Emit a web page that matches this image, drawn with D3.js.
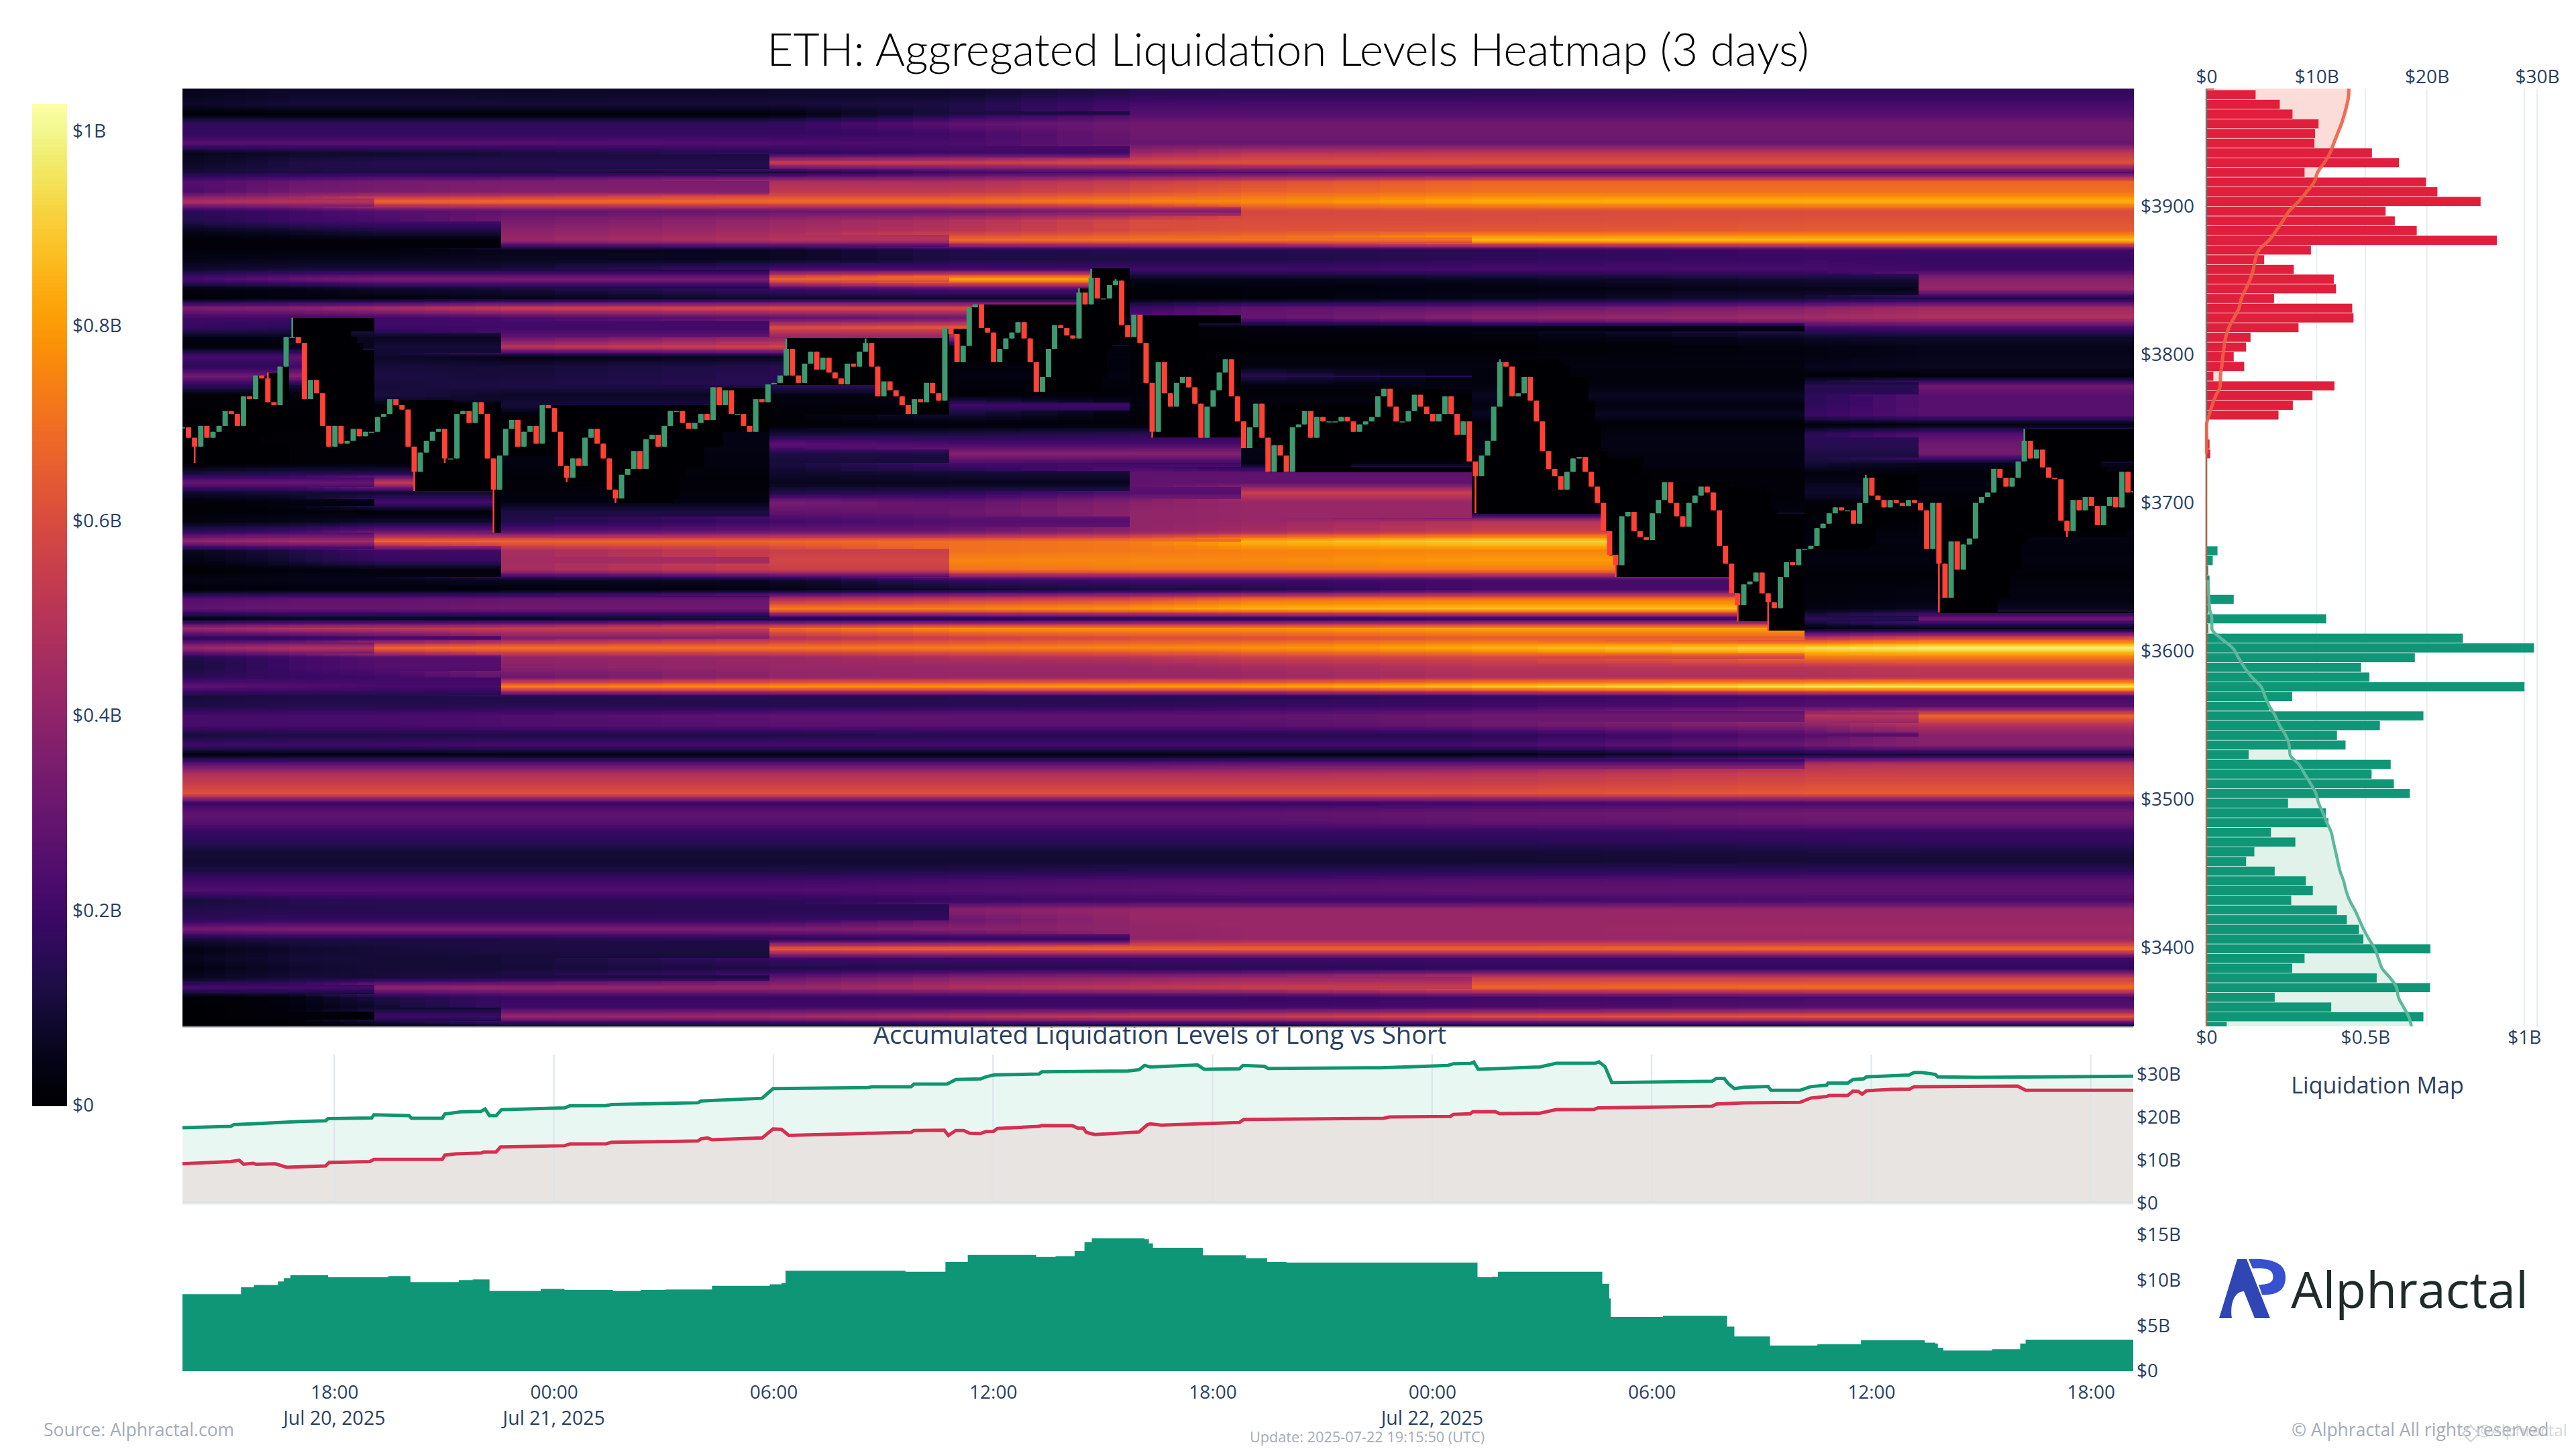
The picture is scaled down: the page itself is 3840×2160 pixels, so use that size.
<!DOCTYPE html>
<html><head><meta charset="utf-8">
<script src="https://cdn.jsdelivr.net/npm/d3@7"></script>
<style>html,body{margin:0;padding:0;background:#fff}svg{display:block}text{font-family:"Open Sans",sans-serif;fill:#2a3f5f}</style>
</head><body><svg id="c" width="3840" height="2160" viewBox="0 0 3840 2160"></svg>
<script>
// ---------- DATA ----------
const startTime = Date.UTC(2025,6,20,13,51);
const endHours = 53.31;
const candleStepMin = 10;
const closes = [3751,3744,3738,3752,3744,3748,3752,3762,3760,3752,3772,3770,3786,3784,3768,3766,3792,3812,3812,3808,3770,3783,3774,3752,3738,3752,3740,3742,3750,3745,3748,3748,3758,3760,3770,3766,3763,3738,3721,3734,3742,3748,3750,3730,3730,3760,3762,3754,3768,3760,3730,3709,3732,3750,3756,3738,3748,3752,3740,3766,3764,3748,3725,3717,3730,3725,3744,3750,3740,3730,3709,3703,3719,3723,3735,3723,3743,3746,3738,3752,3762,3762,3754,3750,3754,3760,3756,3778,3766,3776,3760,3760,3752,3748,3770,3768,3780,3781,3786,3804,3786,3781,3794,3802,3790,3798,3788,3784,3780,3794,3792,3802,3808,3792,3772,3782,3776,3772,3766,3760,3770,
3768,3781,3774,3769,3818,3814,3795,3806,3832,3834,3818,3815,3795,3804,3811,3815,3822,3811,3795,3775,3785,3804,3820,3818,3813,3811,3842,3834,3852,3838,3838,3847,3850,3820,3812,3827,3808,3781,3748,3795,3774,3765,3781,3785,3778,3767,3744,3765,3776,3788,3797,3772,3755,3737,3751,3767,3744,3721,3739,3732,3721,3751,3753,3762,3744,3758,3755,3755,3755,3758,3755,3748,3753,3755,3758,3772,3777,3765,3755,3755,3762,3773,3765,3760,3755,3760,3772,3760,3746,3755,3728,3718,3732,3742,3765,3795,3792,3772,3774,3785,3769,3755,3735,3723,3718,3709,3721,3730,3731,3721,3711,3700,3681,3665,3658,3691,3694,3681,3677,3675,3693,3702,3714,3700,3691,3684,3700,3705,3711,3707,3695,
3671,3659,3639,3631,3645,3647,3653,3639,3633,3629,3650,3660,3658,3669,3669,3671,3683,3686,3693,3697,3695,3695,3686,3700,3717,3705,3702,3697,3702,3700,3698,3702,3700,3695,3669,3700,3659,3636,3674,3655,3672,3676,3700,3704,3707,3723,3717,3711,3717,3728,3742,3730,3736,3724,3717,3716,3688,3681,3702,3695,3704,3698,3685,3698,3704,3697,3721,3707,3708];
const wickIndex = [2,14,18,38,43,51,63,71,99,112,147,149,153,159,212,216,235,255,260,276,288,302,309];
const wickPrice = [3727,3788,3825,3708,3727,3680,3714,3700,3811,3811,3845,3858,3851,3744,3693,3797,3650,3620,3614,3719,3626,3750,3677];

const levelTop = 3982.05, levelStep = 6.55;     // price of first row, row spacing
// hours after start at which each heat column begins
const heatBreaks = [0,2.91,5.24,8.7,16.04,20.95,25.88,28.93,35.24,44.33,47.44];
// $B per level (top to bottom) across the heat columns
const heatRows = [
[.04,.06,.07,.06,.07,.07,.12,.13,.14,.15,.15],
[.05,.08,.08,.07,.08,.08,.15,.16,.16,.17,.17],
[.07,.1,.1,.1,.1,.12,.22,.22,.22,.22,.22],
[.01,.01,.01,.01,.01,.12,.25,.25,.25,.25,.25],
[.17,.17,.17,.17,.17,.28,.32,.32,.32,.32,.32],
[.17,.17,.17,.17,.17,.2,.32,.32,.32,.32,.32],
[.26,.26,.26,.26,.24,.22,.3,.3,.3,.3,.3],
[.05,.08,.08,.1,.15,.2,.42,.5,.52,.52,.52],
[.06,.12,.14,.14,.55,.55,.6,.62,.62,.62,.62],
[.1,.12,.13,.12,.1,.2,.22,.24,.24,.24,.24],
[.24,.3,.33,.35,.48,.47,.55,.6,.68,.68,.68],
[.22,.33,.34,.36,.52,.52,.6,.66,.7,.7,.7],
[.48,.5,.68,.7,.7,.7,.75,.76,.84,.85,.85],
[.15,.2,.25,.28,.3,.3,.35,.58,.6,.6,.6],
[.13,.2,.22,.33,.42,.48,.6,.6,.6,.62,.62],
[.05,.08,.12,.38,.45,.5,.6,.62,.63,.65,.65],
[.01,.02,.02,.42,.5,.7,.72,.72,.88,.88,.88],
[.02,.02,.02,.05,.06,.13,.14,.14,.14,.2,.2],
[.04,.05,.05,.06,.06,.12,.12,.12,.16,.2,.18],
[.08,.1,.1,.1,.22,.22,.2,.2,.22,.22,.2],
[.22,.3,.35,.35,.7,.85,.05,.05,.06,.1,.38],
[.03,.04,.08,.1,.2,.25,.01,.02,.03,.05,.42],
[.01,.03,.02,.04,.08,.08,.02,.02,.05,.1,.12],
[.35,.38,.45,.55,.6,.6,.18,.28,.3,.38,.45],
[.2,.2,.2,.22,.26,.3,.25,.28,.4,.45,.48],
[.18,.15,.2,.2,.6,.65,.01,.02,.03,.2,.22],
[.04,.06,.06,.28,.4,.42,.01,.02,.02,.07,.08],
[.02,.05,.1,.5,.58,.02,0,0,0,.03,.05],
[.22,.28,.08,.03,.05,.03,.02,.02,.02,.03,.05],
[.15,.2,.1,.1,.14,.02,.02,.03,.03,.05,.06],
[.32,.38,.12,.1,.15,.03,.02,.15,.02,.02,.02],
[.15,.1,.1,.12,.15,.02,.02,.02,.03,.15,.32],
[.01,.02,.12,.07,.03,.02,.02,.02,.06,.15,.26],
[.01,.01,.02,.1,.02,.2,.03,.03,.03,.15,.26],
[0,0,.01,.02,.01,.1,.02,.02,.06,.18,.26],
[0,0,.01,.01,.01,.01,.01,.01,.01,.02,.02],
[.01,.01,.02,.04,.1,.12,.15,.05,.03,.15,.25],
[.01,.01,.02,.04,.28,.22,.22,.05,.04,.15,.32],
[0,.01,.01,.03,.12,.38,.38,.04,.03,.12,.33],
[0,.01,.02,.03,.1,.22,.2,.03,.03,.1,.05],
[.1,.13,.13,.02,.08,.1,.28,.28,.01,.02,.02],
[.3,.3,.55,.02,.05,.05,.28,.28,.02,.05,.03],
[.08,.1,.08,.02,.12,.15,.25,.55,.02,.08,.02],
[.01,.03,.22,.04,.35,.28,.38,.42,.02,.02,.02],
[.01,.02,.01,.12,.28,.3,.4,.42,.03,.01,.01],
[.03,.05,.08,.12,.2,.25,.4,.42,.5,.02,.02],
[.15,.2,.3,.25,.3,.3,.4,.45,.55,.02,.03],
[.4,.45,.68,.68,.68,.7,.72,.85,.92,.03,.03],
[.05,.12,.2,.45,.55,.7,.72,.74,.75,.02,.02],
[.03,.1,.18,.45,.58,.75,.76,.76,.8,.03,.03],
[0,.02,.02,.45,.55,.7,.72,.72,.72,.02,.02],
[.04,.05,.05,.06,.07,.18,.2,.2,.22,.02,.02],
[.01,.02,.02,.02,.03,.08,.12,.12,.22,.02,.03],
[.25,.28,.28,.3,.48,.55,.6,.7,.72,.02,.03],
[.28,.3,.3,.32,.75,.75,.8,.85,.88,.03,.06],
[.02,.05,.05,.05,.08,.1,.12,.12,.15,.15,.32],
[.42,.5,.52,.55,.68,.78,.78,.78,.82,.02,.03],
[.15,.15,.2,.35,.48,.55,.6,.6,.65,.5,.6],
[.42,.5,.7,.72,.72,.74,.76,.78,.85,.95,.99],
[.12,.2,.25,.4,.42,.48,.5,.55,.58,.72,.72],
[.1,.2,.25,.38,.42,.42,.42,.45,.5,.5,.52],
[.15,.18,.2,.3,.4,.42,.42,.42,.48,.48,.5],
[.28,.25,.22,.75,.8,.8,.82,.82,.9,.98,.97],
[.1,.12,.12,.13,.14,.14,.14,.14,.17,.22,.22],
[.12,.14,.14,.14,.14,.15,.16,.18,.2,.25,.25],
[.22,.22,.22,.24,.28,.28,.28,.28,.32,.5,.68],
[.22,.22,.22,.24,.26,.26,.26,.26,.3,.38,.48],
[.1,.12,.12,.12,.12,.14,.14,.14,.14,.25,.38],
[.2,.2,.2,.22,.22,.22,.22,.22,.22,.32,.38],
[.02,.03,.03,.03,.03,.03,.03,.03,.03,.1,.1],
[.28,.28,.28,.28,.28,.28,.28,.3,.3,.48,.5],
[.48,.48,.48,.48,.48,.48,.48,.48,.5,.56,.56],
[.55,.55,.55,.55,.55,.55,.55,.55,.55,.6,.6],
[.62,.62,.62,.62,.62,.62,.62,.62,.62,.65,.65],
[.18,.18,.18,.18,.18,.18,.18,.18,.2,.22,.22],
[.28,.28,.28,.28,.28,.28,.28,.28,.3,.33,.33],
[.26,.26,.26,.26,.26,.26,.26,.26,.28,.3,.3],
[.17,.17,.17,.17,.17,.17,.17,.17,.17,.18,.18],
[.15,.15,.15,.15,.15,.15,.15,.15,.15,.16,.17],
[.1,.1,.1,.1,.1,.1,.1,.1,.1,.11,.11],
[.09,.09,.09,.09,.09,.09,.09,.09,.09,.1,.1],
[.12,.12,.12,.12,.12,.13,.14,.14,.15,.16,.16],
[.2,.2,.2,.2,.2,.22,.24,.24,.25,.26,.26],
[.24,.24,.24,.24,.24,.25,.26,.27,.28,.28,.28],
[.1,.14,.15,.15,.15,.18,.2,.2,.2,.22,.22],
[.13,.14,.14,.14,.15,.38,.42,.42,.42,.42,.42],
[.16,.17,.17,.17,.17,.3,.42,.42,.42,.42,.42],
[.33,.35,.35,.35,.35,.38,.4,.42,.42,.44,.44],
[.1,.12,.12,.12,.14,.16,.4,.42,.42,.42,.42],
[.03,.08,.1,.12,.65,.68,.68,.68,.68,.7,.7],
[.05,.1,.1,.1,.2,.2,.2,.2,.2,.2,.2],
[.03,.08,.1,.1,.12,.14,.15,.15,.16,.16,.16],
[.05,.1,.1,.12,.28,.38,.4,.42,.55,.55,.55],
[.22,.22,.4,.42,.42,.48,.52,.55,.68,.7,.7],
[.01,.03,.12,.18,.18,.18,.18,.18,.2,.22,.22],
[0,.02,.08,.2,.2,.2,.2,.2,.22,.25,.25],
[0,.02,.2,.42,.45,.5,.55,.55,.62,.65,.65],
[0,0,.01,.03,.03,.03,.03,.03,.03,.03,.03]
];

// side panel, $M per level. shortBars begins at row 0, longBars at row longFirstRow
const shortBars = [24,155,231,271,353,342,340,521,606,309,691,727,863,564,593,662,914,329,182,275,401,408,213,459,463,290,139,125,86,119,22,403,334,272,227,0,0,10,12];
const longFirstRow = 48;
const longBars = [35,20,6,10,6,86,6,377,6,807,1031,656,487,513,1001,270,198,683,546,411,438,133,580,520,590,640,257,376,384,203,280,151,125,215,313,335,267,411,442,480,494,705,309,270,536,704,215,393,683,64];
const longCumFirstRow = 51;
const longCum = [.16,.2,.24,.3,.5,.5,1.31,2.38,2.91,3.45,4.12,4.97,5.32,5.72,6.25,6.65,7.19,7.51,7.59,8.39,8.93,9.46,9.94,10.18,10.58,10.93,11.33,11.52,11.73,11.92,12.13,12.45,12.67,12.99,13.47,13.87,14.27,14.75,15.29,15.61,15.93,16.68,17.26,17.42,17.88,18.36,18.6];

// accumulated long (green) and short (red) levels, hours after start / $B
const accLongHours = [0,1.32,1.4,2.39,3.22,3.91,3.98,5.17,5.23,6.19,6.26,7.1,7.17,7.63,8.16,8.27,8.39,8.57,8.72,10.44,10.59,11.58,11.73,14.09,14.17,15.84,16.14,18.73,18.85,19.91,19.99,20.9,21.13,21.81,21.96,22.19,23.41,23.48,25.84,26.14,26.29,26.45,27.74,27.92,28.88,28.98,29.56,29.67,32.75,34.58,34.73,35.19,35.29,35.41,37.09,37.54,38.6,38.71,38.88,39.06,41.8,41.92,42.13,42.25,42.41,42.68,43.33,43.41,44.2,44.49,44.93,44.97,45.51,45.65,45.94,46.02,47.18,47.32,47.54,47.9,47.97,49.06,53.31];
const accLong = [17.5,17.8,18.2,18.6,18.95,19.1,19.6,19.75,20.5,20.3,19.7,19.7,20.7,21.2,21.3,21.85,20.3,20.3,21.7,22.1,22.6,22.65,22.9,23.3,23.7,24.35,26.6,26.85,27.05,27.05,27.65,27.65,28.7,28.85,29.35,29.8,30,30.5,30.7,31,32,31.65,32.1,31.1,31.2,32,31.8,31.3,31.45,32,32.4,32.45,32.8,31.1,31.65,32.5,32.5,32.85,31.65,28,28.3,29,29,27.7,26.6,26.9,27.1,26.2,26.2,27.05,27.4,27.9,27.9,28.7,28.85,29.35,29.75,30.35,30.35,29.9,29.35,29.2,29.5];
const accShortHours = [0,1.32,1.55,1.67,1.93,2.01,2.54,2.84,3.91,4.01,5.12,5.23,7.1,7.17,7.48,8.16,8.24,8.57,8.69,10.44,10.59,11.58,11.73,14.09,14.17,14.35,14.47,15.84,16.14,16.37,16.57,18.73,18.85,19.91,19.99,20.82,20.93,21.13,21.35,21.51,21.81,21.96,22.16,22.27,23.41,23.48,24.32,24.47,24.62,24.7,24.93,26.14,26.37,26.45,26.75,28.88,29,32.83,32.98,34.65,34.73,35.19,35.26,35.87,35.99,37.09,37.54,38.57,38.68,41.8,41.92,42.68,44.2,44.49,44.93,45,45.51,45.65,45.8,45.9,46.02,46.67,47.2,47.32,50.15,50.37,53.31];
const accShort = [9.1,9.6,9.9,9,9.2,9,9.1,8.3,8.6,9.4,9.6,10.1,10.1,11.1,11.4,11.6,11.85,11.85,13,13.3,13.7,13.75,14.1,14.4,14.9,15.1,14.7,15.1,17.2,17.1,15.7,16.2,16.2,16.4,16.85,16.9,15.7,16.85,16.85,16.2,16.15,16.6,16.65,17.3,17.8,18,17.95,17.4,17.4,16.4,15.9,16.5,18.2,18.4,18.1,18.7,19.4,19.7,20,20.1,20.6,20.75,21.2,21.25,20.8,20.85,21.7,21.75,22.1,22.5,23,23.3,23.4,24.4,24.75,25,25,26,25.95,25.3,26.1,26.4,26.5,27.05,27.2,26.2,26.2];

// long minus short steps, hours after start / $B
const diffHours = [0,1.6,1.95,2.61,2.77,2.95,3.98,5.62,6.23,7.55,7.93,8.39,9.79,10.44,11.76,12.52,13.21,14.47,16.05,16.37,16.48,19.76,20.85,21.46,23.33,23.86,24.38,24.65,24.85,26.29,26.41,26.52,27.89,29.06,29.64,30.17,35.39,35.79,35.95,38.8,38.99,39.03,40.46,42.21,42.41,43.38,44.68,45.87,47.61,47.9,47.97,48.12,49.45,50.22,50.37,53.31];
const diffVals = [8.48,9.25,9.5,9.88,10.25,10.56,10.34,10.47,9.8,10.03,10.1,8.85,9.07,8.94,8.85,8.94,9,9.41,9.57,9.72,11.06,10.96,12.05,12.8,12.58,12.67,13.23,14.22,14.63,14.53,14.07,13.6,12.76,12.45,12.05,11.96,10.34,10.4,10.96,9.63,8.01,5.99,6.09,4.91,3.82,2.83,2.98,3.42,3.14,3.04,2.58,2.27,2.42,3.04,3.48,3.48];

const priceTicks = [3400,3500,3600,3700,3800,3900];
const colorTicks = [0,.2,.4,.6,.8,1];
const accTicks = [0,10,20,30];
const diffTicks = [0,5,10,15];
const timeTicks = ["2025-07-20T18:00Z","2025-07-21T00:00Z","2025-07-21T06:00Z","2025-07-21T12:00Z","2025-07-21T18:00Z","2025-07-22T00:00Z","2025-07-22T06:00Z","2025-07-22T12:00Z","2025-07-22T18:00Z"];
const dateLabels = [["2025-07-20T18:00Z","Jul 20, 2025"],["2025-07-21T00:00Z","Jul 21, 2025"],["2025-07-22T00:00Z","Jul 22, 2025"]];

// ---------- SCALES ----------
const HR=3600000, at=h=>new Date(startTime+h*HR);
const x=d3.scaleUtc().domain([at(0),at(endHours)]).range([272,3180]);
const yP=d3.scaleLinear().domain([3979.2,3346.3]).range([133,1531]);
const color=d3.scaleSequential(d3.interpolateInferno).domain([0,1.027]);
const xBar=d3.scaleLinear().domain([0,1000]).range([3289,3762.7]);
const xCum=d3.scaleLinear().domain([0,30]).range([3289,3782]);
const yAcc=d3.scaleLinear().domain([0,30]).range([1793,1601]);
const yDiff=d3.scaleLinear().domain([0,15]).range([2044,1841]);
const yColor=d3.scaleLinear().domain([0,1.027]).range([1648,156]);

const svg=d3.select("#c");
const defs=svg.append("defs");
defs.append("clipPath").attr("id","plot").append("rect").attr("x",272).attr("y",132).attr("width",2908).attr("height",1398);
defs.append("clipPath").attr("id","side").append("rect").attr("x",3280).attr("y",132).attr("width",520).attr("height",1398);

const txt=(g,X,Y,s,size,anchor,fill)=>{const t=g.append("text").attr("x",X).attr("y",Y).attr("font-size",size).attr("text-anchor",anchor||"start").text(s);if(fill)t.style("fill",fill);return t;};
const fmtB=v=>v===0?"$0":"$"+v+"B";

// ---------- candles ----------
const candles=closes.map((c,i)=>{const o=i?closes[i-1]:c;let hi=Math.max(o,c),lo=Math.min(o,c);const w=wickIndex.indexOf(i);if(w>=0){hi=Math.max(hi,wickPrice[w]);lo=Math.min(lo,wickPrice[w]);}return{t:at(i*candleStepMin/60),h:i*candleStepMin/60,o,c,hi,lo};});

// accumulated sub-title lies behind the heatmap
txt(svg,1729,1556,"Accumulated Liquidation Levels of Long vs Short",38,"middle");

// ---------- heatmap ----------
// small differences between neighbouring columns drift gradually, large ones switch at the break.
// A level the price has passed turns black; faint levels come back after regrowHours.
const strips=[];const stripH=2,subSteps=5,driftLimit=.12,regrowHours=1.6,regrowMax=.12;
d3.range(132,1530,stripH).forEach(Y=>{
  const p=yP.invert(Y+stripH/2);
  let f=(levelTop-p)/levelStep; f=Math.max(0,Math.min(heatRows.length-1,f));
  const r0=Math.floor(f),r1=Math.min(heatRows.length-1,r0+1),w=f-r0;
  const valAt=c=>heatRows[r0][c]*(1-w)+heatRows[r1][c]*w;
  heatBreaks.forEach((h0,c)=>{
    const h1=c+1<heatBreaks.length?heatBreaks[c+1]:endHours;
    const v=valAt(c);
    const inCol=candles.filter(d=>d.h>=h0&&d.h<h1&&d.lo<=p&&d.hi>=p);
    const next=c+1<heatBreaks.length?valAt(c+1):v;
    if(!inCol.length&&Math.abs(next-v)<driftLimit&&Math.abs(next-v)>.004){
      d3.range(subSteps).forEach(s=>{
        const a=h0+(h1-h0)*s/subSteps,b=h0+(h1-h0)*(s+1)/subSteps;
        strips.push({h0:a,h1:b,Y,v:v+(next-v)*(s+.5)/subSteps*.9});
      });
    } else if(!inCol.length){
      strips.push({h0,h1,Y,v});
    } else {
      const first=inCol[0].h,last=inCol[inCol.length-1].h;
      strips.push({h0,h1:first,Y,v});
      if(v<regrowMax&&last+regrowHours<h1){
        strips.push({h0:first,h1:last+regrowHours,Y,v:0});
        strips.push({h0:last+regrowHours,h1,Y,v});
      } else strips.push({h0:first,h1,Y,v:0});
    }
  });
});
svg.append("g").attr("shape-rendering","crispEdges").selectAll("rect").data(strips.filter(d=>d.h1>d.h0)).join("rect")
 .attr("x",d=>x(at(d.h0))).attr("width",d=>x(at(d.h1))-x(at(d.h0))+.5)
 .attr("y",d=>d.Y).attr("height",stripH+.2).attr("fill",d=>color(d.v));
svg.append("line").attr("x1",272).attr("x2",3180).attr("y1",1530.5).attr("y2",1530.5).attr("stroke","#8a8d93").attr("stroke-width",2);

// candles
const cg=svg.append("g").attr("clip-path","url(#plot)");
const col=d=>d.c>=d.o?"#3d9970":"#ff4136";
cg.selectAll("line").data(candles).join("line").attr("x1",d=>x(d.t)).attr("x2",d=>x(d.t)).attr("y1",d=>yP(d.hi)).attr("y2",d=>yP(d.lo)).attr("stroke",col).attr("stroke-width",2.6);
cg.selectAll("rect").data(candles).join("rect").attr("x",d=>x(d.t)-4).attr("width",8).attr("y",d=>yP(Math.max(d.o,d.c))).attr("height",d=>Math.max(1.5,Math.abs(yP(d.o)-yP(d.c)))).attr("fill",col);

// price axis
const pa=svg.append("g").attr("transform","translate(3180,0)").call(d3.axisRight(yP).tickValues(priceTicks).tickFormat(d=>"$"+d).tickSize(0).tickPadding(11));
pa.select(".domain").remove(); pa.selectAll("text").attr("font-size",28).attr("font-family","Open Sans").style("fill","#2a3f5f");

// ---------- colour bar ----------
const cbSteps=d3.range(0,1.027,.002);
svg.append("g").attr("shape-rendering","crispEdges").selectAll("rect").data(cbSteps).join("rect").attr("x",48).attr("width",52).attr("y",d=>yColor(d+.002)).attr("height",d=>yColor(d)-yColor(d+.002)+.6).attr("fill",d=>color(d));
const ca=svg.append("g").attr("transform","translate(100,0)").call(d3.axisRight(yColor).tickValues(colorTicks).tickFormat(d=>d===0?"$0":"$"+d+"B").tickSize(0).tickPadding(8));
ca.select(".domain").remove(); ca.selectAll("text").attr("font-size",28).attr("font-family","Open Sans").style("fill","#2a3f5f");

// ---------- side panel ----------
const nRows=heatRows.length, rowPrice=r=>levelTop-r*levelStep;
const grids=[xBar(500),xCum(10),xCum(20),xBar(1000),xCum(30)];
svg.append("g").selectAll("line").data(grids).join("line").attr("x1",d=>d).attr("x2",d=>d).attr("y1",132).attr("y2",1530).attr("stroke","#e6eef0").attr("stroke-width",2);
const shortFull=d3.range(nRows).map(r=>r<shortBars.length?shortBars[r]:0);
const shortCum=Array.from(d3.cumsum(shortFull.slice().reverse())).reverse().map(v=>v/1000);
const longFull=d3.range(nRows).map(r=>r>=longFirstRow&&r-longFirstRow<longBars.length?longBars[r-longFirstRow]:0);
const longCumFull=d3.range(nRows).map(r=>r>=longCumFirstRow?longCum[r-longCumFirstRow]:0);
const rows=d3.range(nRows);
const sideG=svg.append("g").attr("clip-path","url(#side)");
const areaOf=a=>d3.area().y(r=>yP(rowPrice(r))).x0(xCum(0)).x1(r=>xCum(a[r])).curve(d3.curveMonotoneY);
const lineOf=a=>d3.line().y(r=>yP(rowPrice(r))).x(r=>xCum(a[r])).curve(d3.curveMonotoneY);
const shortRows=rows.filter(r=>shortCum[r]>0), longRows=rows.filter(r=>r>=longCumFirstRow);
sideG.append("path").attr("d",areaOf(shortCum)(shortRows)).attr("fill","#fbdcd8");
sideG.append("path").attr("d",areaOf(longCumFull)(longRows)).attr("fill","#e0f2e9");
sideG.append("g").selectAll("rect").data(rows.filter(r=>shortFull[r]>0)).join("rect").attr("x",xBar(0)).attr("width",r=>xBar(shortFull[r])-xBar(0)).attr("y",r=>yP(rowPrice(r))-6.8).attr("height",13.6).attr("fill","#e01f3d");
sideG.append("g").selectAll("rect").data(rows.filter(r=>longFull[r]>0)).join("rect").attr("x",xBar(0)).attr("width",r=>xBar(longFull[r])-xBar(0)).attr("y",r=>yP(rowPrice(r))-6.8).attr("height",13.6).attr("fill","#0f9677");
// zero stretches of the two cumulative lines
sideG.append("line").attr("x1",xCum(0)).attr("x2",xCum(0)).attr("y1",132).attr("y2",yP(rowPrice(longCumFirstRow))).attr("stroke","#5f7f78").attr("stroke-width",2.4);
sideG.append("line").attr("x1",xCum(0)).attr("x2",xCum(0)).attr("y1",yP(rowPrice(shortRows[shortRows.length-1]))).attr("y2",1530).attr("stroke","#c4603f").attr("stroke-width",2.4);
sideG.append("path").attr("d",lineOf(longCumFull)(longRows)).attr("fill","none").attr("stroke","#5cb89c").attr("stroke-width",4.5);
sideG.append("path").attr("d",lineOf(shortCum)(shortRows)).attr("fill","none").attr("stroke","#ee5f45").attr("stroke-width",5).attr("stroke-opacity",.9);
const ta=svg.append("g").attr("transform","translate(0,124)").call(d3.axisTop(xCum).tickValues([0,10,20,30]).tickFormat(fmtB).tickSize(0).tickPadding(0));
ta.select(".domain").remove(); ta.selectAll("text").attr("font-size",28).attr("font-family","Open Sans").style("fill","#2a3f5f");
const ba=svg.append("g").attr("transform","translate(0,1530)").call(d3.axisBottom(xBar).tickValues([0,500,1000]).tickFormat(d=>d===0?"$0":d===500?"$0.5B":"$1B").tickSize(0).tickPadding(6));
ba.select(".domain").remove(); ba.selectAll("text").attr("font-size",28).attr("font-family","Open Sans").style("fill","#2a3f5f");
txt(svg,3544,1630,"Liquidation Map",34,"middle");

// ---------- accumulated chart ----------
const accL=accLongHours.map((h,i)=>({h,v:accLong[i]})), accS=accShortHours.map((h,i)=>({h,v:accShort[i]}));
const aLine=d3.line().x(d=>x(at(d.h))).y(d=>yAcc(d.v));
const aArea=d3.area().x(d=>x(at(d.h))).y0(yAcc(0)).y1(d=>yAcc(d.v));
svg.append("path").attr("d",aArea(accL)).attr("fill","#e9f7f3");
svg.append("path").attr("d",aArea(accS)).attr("fill","#e7e4e1");
svg.append("g").selectAll("line").data(timeTicks).join("line").attr("x1",d=>x(new Date(d))).attr("x2",d=>x(new Date(d))).attr("y1",1572).attr("y2",1792).attr("stroke","#dde4ec").attr("stroke-width",2);
svg.append("rect").attr("x",272).attr("y",1791).attr("width",2908).attr("height",3).attr("fill","#dcdfe3");
svg.append("rect").attr("x",272).attr("y",1794).attr("width",2908).attr("height",2).attr("fill","#eef6f4");
svg.append("path").attr("d",aLine(accL)).attr("fill","none").attr("stroke","#10956f").attr("stroke-width",5);
svg.append("path").attr("d",aLine(accS)).attr("fill","none").attr("stroke","#d72f4f").attr("stroke-width",5);
const aa=svg.append("g").attr("transform","translate(3180,1)").call(d3.axisRight(yAcc).tickValues(accTicks).tickFormat(fmtB).tickSize(0).tickPadding(5));
aa.select(".domain").remove(); aa.selectAll("text").attr("font-size",28).attr("font-family","Open Sans").style("fill","#2a3f5f");

// ---------- difference chart ----------
const diffData=diffHours.map((h,i)=>({h,v:diffVals[i]}));
svg.append("path").attr("d",d3.area().x(d=>x(at(d.h))).y0(yDiff(0)).y1(d=>yDiff(d.v)).curve(d3.curveStepAfter)(diffData)).attr("fill","#0f9677");
const da=svg.append("g").attr("transform","translate(3180,0)").call(d3.axisRight(yDiff).tickValues(diffTicks).tickFormat(fmtB).tickSize(0).tickPadding(5));
da.select(".domain").remove(); da.selectAll("text").attr("font-size",28).attr("font-family","Open Sans").style("fill","#2a3f5f");

// ---------- time axis ----------
const xa=svg.append("g").attr("transform","translate(0,2044)").call(d3.axisBottom(x).tickValues(timeTicks.map(d=>new Date(d))).tickFormat(d3.utcFormat("%H:%M")).tickSize(0).tickPadding(21));
xa.select(".domain").remove(); xa.selectAll("text").attr("font-size",28).attr("font-family","Open Sans").style("fill","#2a3f5f");
dateLabels.forEach(([d,s])=>txt(svg,x(new Date(d)),2124,s,28.5,"middle"));

// ---------- titles, footers, logo ----------
txt(svg,1920,98,"ETH: Aggregated Liquidation Levels Heatmap (3 days)",67.5,"middle","#000").style("font-family","Lato").style("font-weight",300);
txt(svg,65,2141,"Source: Alphractal.com",26.5,"start","#a3abb9");
txt(svg,2038,2150,"Update: 2025-07-22 19:15:50 (UTC)",21.7,"middle","#a3abb9");
txt(svg,3416,2141,"© Alphractal All rights reserved",26.5,"start","#a3abb9");
txt(svg,3692,2141,"@Alphractal",24,"start","#c4c8cf").style("opacity",.7);
svg.append("path").attr("d","M3683,2125 L3695,2137 L3683,2149 L3671,2137 Z").attr("fill","none").attr("stroke","#ced1d6").attr("stroke-width",2);

const logo=svg.append("g");
logo.append("path").attr("d","M3335,1877 L3349,1877 L3384,1965 L3361,1965 L3345,1925 C3330,1925 3324,1945 3327,1965 L3308,1965 Z").attr("fill","#2f46b4");
logo.append("path").attr("d","M3352,1877 C3392,1875 3408,1885 3407,1906 C3406,1926 3390,1931 3372,1930 L3367,1915 C3385,1915 3390,1910 3388,1900 C3386,1890 3370,1890 3358,1891 Z").attr("fill","#3650cf");
txt(logo,3415,1950,"Alphractal",75,"start","#1f2a2a");
</script></body></html>
